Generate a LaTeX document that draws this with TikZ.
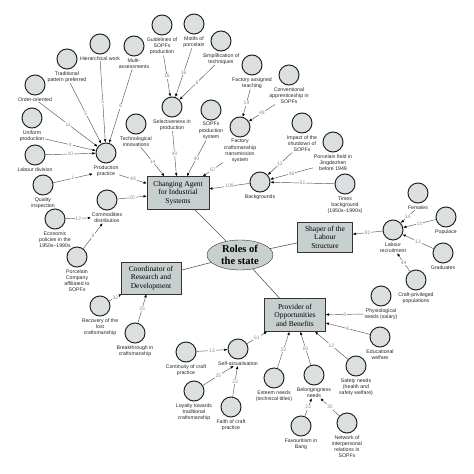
\documentclass[tikz,border=0pt]{standalone}
\usepackage{fontspec}
\setmainfont{Liberation Serif}
\setsansfont{Liberation Sans}
\usepackage{tikz}
\usetikzlibrary{arrows.meta,positioning,shapes.geometric,shadows}
\definecolor{nodegrey}{RGB}{220,223,223}
\definecolor{boxgrey}{RGB}{200,207,207}
\definecolor{linkgrey}{RGB}{85,85,85}
\definecolor{numgrey}{RGB}{140,140,140}
\tikzset{
  factor/.style={circle, draw=black!85, line width=1pt, fill=nodegrey, minimum size=20pt, inner sep=0pt},
  factortext/.style={align=center, font=\sffamily\fontsize{5.2}{6.3}\selectfont, inner sep=0.6pt, text=black!85},
  rolebox/.style={rectangle, draw=black!80, fill=boxgrey, align=center, minimum width=62pt, minimum height=33pt, inner sep=1pt, font=\fontsize{7.5}{8.6}\selectfont, drop shadow={shadow xshift=0.8pt, shadow yshift=-0.8pt, fill=black!45}},
  rolecentre/.style={ellipse, draw=black!80, fill=boxgrey, align=center, minimum width=66pt, minimum height=30pt, inner sep=0pt, font=\fontsize{10.5}{12}\selectfont\bfseries},
  factorarrow/.style={-{Latex[length=3.2pt, width=2.6pt, color=black]}, draw=linkgrey, line width=0.45pt},
  roleline/.style={draw=linkgrey, line width=0.6pt},
  freq/.style={fill=white, inner sep=0.8pt, font=\sffamily\fontsize{5}{6}\selectfont, text=numgrey}
}
\begin{document}
\begin{tikzpicture}[x=1pt, y=-1pt]
\useasboundingbox (0,0) rectangle (474,474);
% core and roles
\node[rolecentre] (roles) at (240,255) {Roles of\\the state};
\node[rolebox] (agent) at (178,193) {Changing Agent\\for Industrial\\Systems};
\node[rolebox, minimum width=60pt, minimum height=32pt] (coord) at (151,278) {Coordinator of\\Research and\\Development};
\node[rolebox, minimum width=55pt, minimum height=30pt] (shaper) at (325,237) {Shaper of the\\Labour\\Structure};
\node[rolebox, minimum width=61pt] (provider) at (295,315) {Provider of\\Opportunities\\and Benefits};
% production practice
\node[factor] (prod) at (106,153) {};
\node[factortext, below=1pt of prod] (prod-t) {Production\\practice};
\node[factor] (hier) at (100,44) {};
\node[factortext, below=1pt of hier] (hier-t) {Hierarchical work};
\node[factor] (multi) at (134,46) {};
\node[factortext, below=1pt of multi] (multi-t) {Multi-\\assessments};
\node[factor] (trad) at (67,59) {};
\node[factortext, below=1pt of trad] (trad-t) {Traditional\\pattern preferred};
\node[factor] (order) at (35,85) {};
\node[factortext, below=1pt of order] (order-t) {Order-oriented};
\node[factor] (unif) at (32,118) {};
\node[factortext, below=1pt of unif] (unif-t) {Uniform\\production};
\node[factor] (labdiv) at (35,155) {};
\node[factortext, below=1pt of labdiv] (labdiv-t) {Labour division};
\node[factor] (quality) at (43,185) {};
\node[factortext, below=1pt of quality] (quality-t) {Quality\\inspection};
% commodities
\node[factor] (comm) at (107,200) {};
\node[factortext, below=1pt of comm] (comm-t) {Commodities\\distribution};
\node[factor] (econ) at (55,219) {};
\node[factortext, below=1pt of econ] (econ-t) {Economic\\policies in the\\1950s--1990s};
\node[factor] (pcomp) at (77,257) {};
\node[factortext, below=1pt of pcomp] (pcomp-t) {Porcelain\\Company\\affiliated to\\SOPFs};
\node[factor] (tech) at (136,124) {};
\node[factortext, below=1pt of tech] (tech-t) {Technological\\innovations};
% selectiveness
\node[factor] (sel) at (172,107) {};
\node[factortext, below=1pt of sel] (sel-t) {Selectiveness in\\production};
\node[factor] (guide) at (162,25) {};
\node[factortext, below=1pt of guide] (guide-t) {Guidelines of\\SOPFs\\production};
\node[factor] (motif) at (194,24) {};
\node[factortext, below=1pt of motif] (motif-t) {Motifs of\\porcelain};
\node[factor] (simp) at (221,41) {};
\node[factortext, below=1pt of simp] (simp-t) {Simplification of\\techniques};
\node[factor] (sopfs) at (211,110) {};
\node[factortext, below=1pt of sopfs] (sopfs-t) {SOPFs\\production\\system};
% craftsmanship transmission
\node[factor] (fct) at (240,127) {};
\node[factortext, below=1pt of fct] (fct-t) {Factory\\craftsmanship\\transmission\\system};
\node[factor] (teach) at (252,65) {};
\node[factortext, below=1pt of teach] (teach-t) {Factory assigned\\teaching};
\node[factor] (conv) at (289,75) {};
\node[factortext, below=1pt of conv] (conv-t) {Conventional\\apprenticeship in\\SOPFs};
% backgrounds
\node[factor] (bg) at (260,182) {};
\node[factortext, below=1pt of bg] (bg-t) {Backgrounds};
\node[factor] (impact) at (302,123) {};
\node[factortext, below=1pt of impact] (impact-t) {Impact of the\\shutdown of\\SOPFs};
\node[factor] (pfield) at (333,142) {};
\node[factortext, below=1pt of pfield] (pfield-t) {Porcelain field in\\Jingdezhen\\before 1949};
\node[factor] (times) at (345,184) {};
\node[factortext, below=1pt of times] (times-t) {Times\\background\\(1950s--1990s)};
% labour recruitment
\node[factor] (lr) at (393,230) {};
\node[factortext, below=1pt of lr] (lr-t) {Labour\\recruitment};
\node[factor] (fem) at (418,193) {};
\node[factortext, below=1pt of fem] (fem-t) {Females};
\node[factor] (popu) at (446,217) {};
\node[factortext, below=1pt of popu] (popu-t) {Populace};
\node[factor] (grad) at (443,253) {};
\node[factortext, below=1pt of grad] (grad-t) {Graduates};
\node[factor] (craft) at (416,280) {};
\node[factortext, below=1pt of craft] (craft-t) {Craft-privileged\\populations};
% needs
\node[factor] (phys) at (381,296) {};
\node[factortext, below=1pt of phys] (phys-t) {Physiological\\needs (salary)};
\node[factor] (edu) at (380,337) {};
\node[factortext, below=1pt of edu] (edu-t) {Educational\\welfare};
\node[factor] (safety) at (356,366) {};
\node[factortext, below=1pt of safety] (safety-t) {Safety needs\\(health and\\safety welfare)};
\node[factor] (belong) at (314,375) {};
\node[factortext, below=1pt of belong] (belong-t) {Belongingness\\needs};
\node[factor] (netw) at (347,423) {};
\node[factortext, below=1pt of netw] (netw-t) {Network of\\interpersonal\\relations in\\SOPFs};
\node[factor] (favour) at (301,426) {};
\node[factortext, below=1pt of favour] (favour-t) {Favouritism in\\Bang};
\node[factor] (esteem) at (274,378) {};
\node[factortext, below=1pt of esteem] (esteem-t) {Esteem needs\\(technical titles)};
\node[factor] (selfact) at (238,349) {};
\node[factortext, below=1pt of selfact] (selfact-t) {Self-actualisation};
\node[factor] (contin) at (186,352) {};
\node[factortext, below=1pt of contin] (contin-t) {Continuity of craft\\practice};
\node[factor] (loyal) at (194,391) {};
\node[factortext, below=1pt of loyal] (loyal-t) {Loyalty towards\\traditional\\craftsmanship};
\node[factor] (faith) at (231,407) {};
\node[factortext, below=1pt of faith] (faith-t) {Faith of craft\\practice};
% research and development
\node[factor] (recov) at (100,306) {};
\node[factortext, below=1pt of recov] (recov-t) {Recovery of the\\lost\\craftsmanship};
\node[factor] (brk) at (135,333) {};
\node[factortext, below=1pt of brk] (brk-t) {Breakthrough in\\craftsmanship};
% role links
\draw[roleline] (roles) -- (agent);
\draw[roleline] (roles) -- (coord);
\draw[roleline] (roles) -- (shaper);
\draw[roleline] (roles) -- (provider);
% into production practice
\draw[factorarrow] (trad-t) -- node[freq]{5} (prod);
\draw[factorarrow] (hier-t) -- node[freq]{5} (prod);
\draw[factorarrow] (multi-t) -- node[freq]{6} (prod);
\draw[factorarrow] (order-t) -- node[freq]{11} (prod);
\draw[factorarrow] (unif-t) -- node[freq]{4} (prod);
\draw[factorarrow] (labdiv) -- node[freq]{10} (prod);
\draw[factorarrow] (quality) -- node[freq]{1} (prod-t);
% into changing agent
\draw[factorarrow] (prod-t) -- node[freq]{48} (agent);
\draw[factorarrow] (comm) -- node[freq]{20} (agent);
\draw[factorarrow] (tech-t) -- node[freq]{14} (agent);
\draw[factorarrow] (sel-t) -- node[freq]{40} (agent);
\draw[factorarrow] (sopfs-t) -- node[freq]{49} (agent);
\draw[factorarrow] (fct-t) -- node[freq]{67} (agent);
\draw[factorarrow] (bg) -- node[freq]{109} (agent);
\draw[factorarrow] (econ) -- node[freq]{12} (comm-t);
\draw[factorarrow] (pcomp) -- node[freq]{8} (comm-t);
\draw[factorarrow] (guide-t) -- node[freq]{16} (sel);
\draw[factorarrow] (motif-t) -- node[freq]{16} (sel);
\draw[factorarrow] (simp-t) -- node[freq]{6} (sel);
\draw[factorarrow] (teach-t) -- node[freq]{19} (fct);
\draw[factorarrow] (conv-t) -- node[freq]{46} (fct);
\draw[factorarrow] (impact-t) -- node[freq]{12} (bg);
\draw[factorarrow] (pfield-t) -- node[freq]{46} (bg);
\draw[factorarrow] (times) -- node[freq]{51} (bg);
% labour structure
\draw[factorarrow] (lr) -- node[freq]{81} (shaper);
\draw[factorarrow] (fem-t) -- node[freq]{14} (lr);
\draw[factorarrow] (popu) -- node[freq]{10} (lr);
\draw[factorarrow] (grad) -- node[freq]{13} (lr);
\draw[factorarrow] (craft) -- node[freq]{44} (lr-t);
% opportunities and benefits
\draw[factorarrow] (phys-t) -- node[freq]{8} (provider);
\draw[factorarrow] (edu) -- node[freq]{8} (provider);
\draw[factorarrow] (safety) -- node[freq]{12} (provider);
\draw[factorarrow] (belong) -- node[freq]{60} (provider);
\draw[factorarrow] (esteem) -- node[freq]{22} (provider);
\draw[factorarrow] (selfact) -- node[freq]{61} (provider);
\draw[factorarrow] (netw) -- node[freq]{30} (belong-t);
\draw[factorarrow] (favour) -- node[freq]{22} (belong-t);
\draw[factorarrow] (contin) -- node[freq]{13} (selfact);
\draw[factorarrow] (loyal) -- node[freq]{25} (selfact-t);
\draw[factorarrow] (faith) -- node[freq]{23} (selfact-t);
% research and development
\draw[factorarrow] (recov) -- node[freq]{32} (coord);
\draw[factorarrow] (brk) -- node[freq]{25} (coord);
\end{tikzpicture}
\end{document}
